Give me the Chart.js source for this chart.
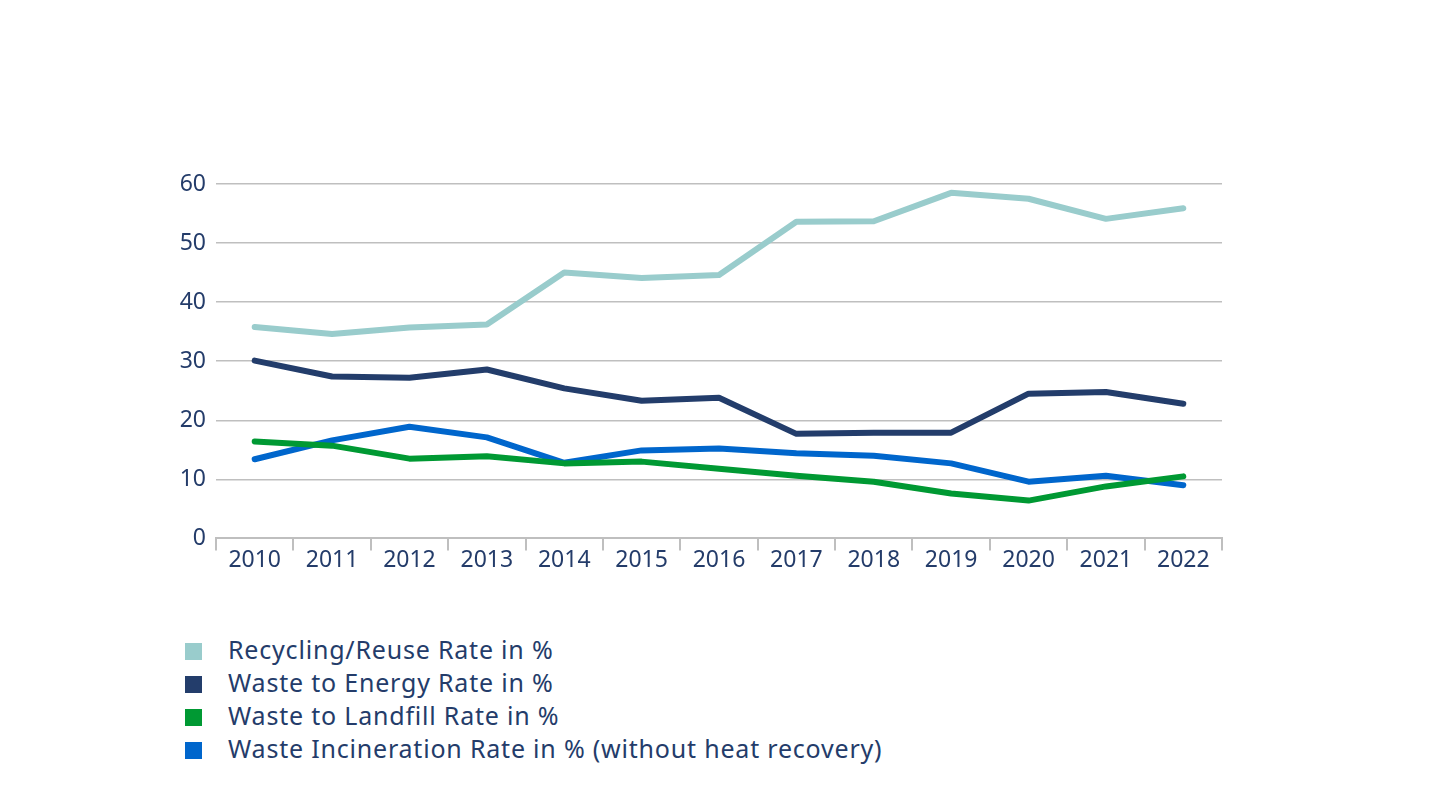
<!DOCTYPE html>
<html>
  <head>
    <meta charset="utf-8">
    <title>Waste rates</title>
    <style>
      body { margin: 0; background: #fff; }
      #wrap { position: relative; width: 1440px; height: 810px; }
      #myChart { position: absolute; left: 0; top: 0; }
      #legend { position: absolute; left: 185px; top: 633px; font-family: "Noto Sans", sans-serif; font-size: 25px; letter-spacing: 0.8px; color: #243c6a; }
      #legend div { height: 33px; line-height: 33px; white-space: nowrap; }
      #legend span { display: inline-block; width: 17px; height: 17px; margin-right: 26px; vertical-align: -1px; }
    </style>
  </head>
  <body>
    <div id="wrap">
      <canvas id="myChart" width="1440" height="620"></canvas>
      <div id="legend"></div>
    </div>
  </body>
  <script src="https://cdn.jsdelivr.net/npm/chart.js@4/dist/chart.umd.min.js"></script>
  <script type="text/javascript">

  const years = ['2010', '2011', '2012', '2013', '2014', '2015', '2016', '2017', '2018', '2019', '2020', '2021', '2022'];
  const recycling = [35.8, 34.6, 35.7, 36.2, 45.0, 44.1, 44.6, 53.6, 53.7, 58.5, 57.5, 54.1, 55.9];
  const energy = [30.1, 27.4, 27.2, 28.6, 25.4, 23.3, 23.8, 17.7, 17.9, 17.9, 24.5, 24.8, 22.8];
  const landfill = [16.4, 15.7, 13.5, 13.9, 12.7, 13.0, 11.8, 10.6, 9.6, 7.6, 6.4, 8.8, 10.5];
  const incineration = [13.4, 16.6, 18.9, 17.1, 12.8, 14.9, 15.2, 14.4, 14.0, 12.7, 9.6, 10.6, 9.0];
  const yTicks = [0, 10, 20, 30, 40, 50, 60];

  const textColor = '#243c6a';
  const gridColor = '#bfbfbf';

  const series = [
    { label: 'Recycling/Reuse Rate in %', data: recycling, color: '#99cccc' },
    { label: 'Waste to Energy Rate in %', data: energy, color: '#233d6b' },
    { label: 'Waste to Landfill Rate in %', data: landfill, color: '#009933' },
    { label: 'Waste Incineration Rate in % (without heat recovery)', data: incineration, color: '#0066cc' }
  ];

  // legend as plain html, one row per series
  let legend = document.getElementById('legend');
  series.forEach((s) => {
    let row = document.createElement('div');
    row.innerHTML = '<span style="background:' + s.color + '"></span>' + s.label;
    legend.appendChild(row);
  });

  var ctx = document.getElementById('myChart').getContext('2d');
  var chart = new Chart(ctx, {
    type: 'line',
    data: {
      labels: years,
      datasets: series.map((s) => ({
        label: s.label,
        data: s.data,
        borderColor: s.color,
        backgroundColor: s.color,
        borderWidth: 6,
        pointRadius: 0,
        tension: 0,
        borderCapStyle: 'round',
        borderJoinStyle: 'round'
      }))
    },
    options: {
      responsive: false,
      animation: false,
      layout: { padding: { left: 160, right: 218, top: 184, bottom: 50 } },
      plugins: { legend: { display: false }, tooltip: { enabled: false } },
      scales: {
        x: {
          offset: true,
          grid: { offset: true, drawOnChartArea: false, drawTicks: true, tickLength: 12, color: gridColor, lineWidth: 2 },
          border: { display: true, color: gridColor, width: 2 },
          ticks: { color: textColor, font: { family: 'Noto Sans', size: 23 }, padding: -4, maxRotation: 0 }
        },
        y: {
          min: 0,
          max: 60,
          afterFit: (scale) => { scale.width = 56; },
          afterBuildTicks: (scale) => { scale.ticks = yTicks.map((v) => ({ value: v })); },
          grid: { drawTicks: false, color: (c) => c.tick && c.tick.value === 0 ? 'rgba(0,0,0,0)' : gridColor, lineWidth: 1.5 },
          border: { display: false },
          ticks: { color: textColor, font: { family: 'Noto Sans', size: 23 }, padding: 10 }
        }
      }
    }
  });
  </script>
</html>
